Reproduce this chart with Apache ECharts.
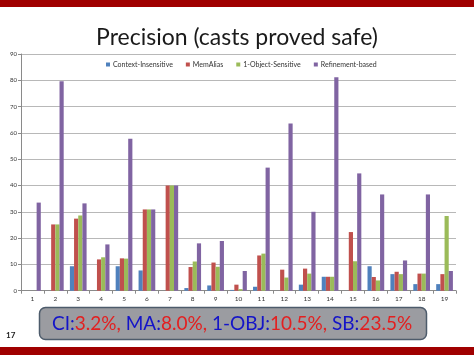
<!DOCTYPE html>
<html>
<head>
<meta charset="utf-8">
<script src="https://cdn.jsdelivr.net/npm/echarts@6/dist/echarts.min.js"></script>
<style>
html,body{margin:0;padding:0;background:#fff;}
#chart{width:474px;height:355px;}
</style>
</head>
<body>
<div id="chart"></div>
<script>
const categories = ['1','2','3','4','5','6','7','8','9','10','11','12','13','14','15','16','17','18','19'];
const contextInsensitive = [0,0,9.3,0,9.3,7.7,0,1,2,0.3,1.5,0,2.3,5.3,0,9.3,6.3,2.5,2.5];
const memAlias = [0,25.2,27.4,11.9,12.3,30.9,40,9,10.7,2.3,13.4,8,8.4,5.3,22.3,5.2,7.2,6.5,6.3];
const oneObject = [0,25.2,28.6,12.7,12.2,30.9,40,11.1,9.1,0.6,14.1,5,6.5,5.3,11.2,3.9,6.3,6.5,28.4];
const refinement = [33.5,79.6,33.2,17.6,57.8,30.9,40,18,18.9,7.5,46.8,63.6,30,81.2,44.6,36.6,11.5,36.6,7.5];
const yTicks = {min:0, max:90, interval:10};

const chart = echarts.init(document.getElementById('chart'));
const font = 'Lato, "Open Sans", sans-serif';
const mk = (name, data, color) => ({
  name, type:'bar', data, barGap:'0%', barCategoryGap:'27%',
  itemStyle:{color}, animation:false
});
chart.setOption({
  animation:false,
  backgroundColor:'#ffffff',
  title:{text:'Precision (casts proved safe)', left:'center', top:21,
    textStyle:{fontFamily:font, fontSize:23, fontWeight:'normal', color:'#1a1a1a'}},
  legend:{top:56, left:101, itemWidth:4, itemHeight:4, itemGap:13, icon:'rect',
    textStyle:{fontFamily:font, fontSize:7, color:'#333', padding:[0,0,0,-2]}},
  grid:{left:21, right:18, top:54, bottom:64.3},
  xAxis:{type:'category', data:categories,
    axisLine:{lineStyle:{color:'#8a8a8a'}},
    axisTick:{show:true, length:3, lineStyle:{color:'#8a8a8a'}},
    axisLabel:{fontFamily:font, fontSize:6.5, color:'#333', margin:5}},
  yAxis:{type:'value', min:yTicks.min, max:yTicks.max, interval:yTicks.interval,
    axisLine:{show:true, lineStyle:{color:'#8a8a8a'}},
    axisTick:{show:true, length:3, lineStyle:{color:'#8a8a8a'}},
    axisLabel:{fontFamily:font, fontSize:6, color:'#333', margin:4},
    splitLine:{lineStyle:{color:'#b8b8b8'}}},
  series:[
    mk('Context-Insensitive', contextInsensitive, '#4f81bd'),
    mk('MemAlias', memAlias, '#c0504d'),
    mk('1-Object-Sensitive', oneObject, '#9bbb59'),
    mk('Refinement-based', refinement, '#8064a2')
  ],
  graphic:[
    {type:'rect', shape:{x:0,y:0,width:474,height:7}, style:{fill:'#a00000'}},
    {type:'rect', shape:{x:0,y:347,width:474,height:8}, style:{fill:'#a00000'}},
    {type:'rect', shape:{x:39.5,y:307.5,width:387,height:32,r:6},
      style:{fill:'#9b9ca1', stroke:'#4d5b6b', lineWidth:1.5}},
    {type:'text', x:52, y:324,
      style:{text:'{a|CI:}{b|3.2%,} {a|MA:}{b|8.0%,} {a|1-OBJ:}{b|10.5%,} {a|SB:}{b|23.5%}',
        verticalAlign:'middle', fontFamily:font, fontSize:19,
        rich:{a:{fill:'#1414c8', fontFamily:font, fontSize:19},
              b:{fill:'#e32020', fontFamily:font, fontSize:19}}}},
    {type:'text', x:6, y:335, style:{text:'17', fontFamily:font, fontSize:8, fontWeight:'bold', fill:'#222', verticalAlign:'middle'}}
  ]
});
</script>
</body>
</html>
